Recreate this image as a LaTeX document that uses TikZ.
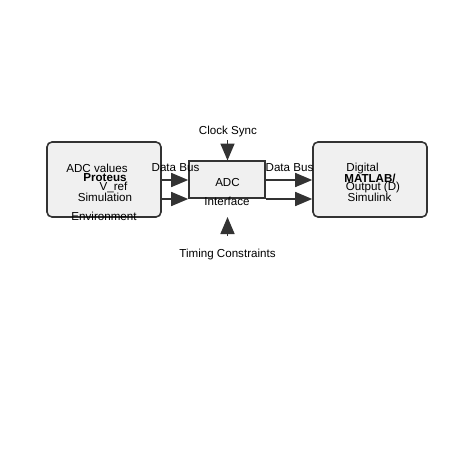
\documentclass[tikz,border=0pt]{standalone}
\usepackage{fontspec}
\setmainfont{Liberation Sans}
\usetikzlibrary{arrows.meta}
\definecolor{boxfill}{HTML}{F0F0F0}
\definecolor{edge}{HTML}{333333}
\begin{document}
\begin{tikzpicture}[x=1pt,y=-1pt,
  box/.style={draw=edge,fill=boxfill,line width=1.6pt,inner sep=0pt},
  rbox/.style={box,rounded corners=5pt},
  lbl/.style={inner sep=0pt,yshift=-2pt,font=\fontsize{11.6}{13}\selectfont},
  arr/.style={draw=edge,line width=1.6pt,-{Triangle[length=17pt,width=14pt]}}]
\path[use as bounding box] (0,0) rectangle (474,474);
\node[rbox,minimum width=114pt,minimum height=75pt] (lb) at (104,179.5) {};
\node[box,minimum width=76pt,minimum height=37pt] (mb) at (227,179.5) {};
\node[rbox,minimum width=114pt,minimum height=75pt] (rb) at (370,179.5) {};
% anchor coordinates
\coordinate (l1) at (lb.east |- 0,180);
\coordinate (l2) at (lb.east |- 0,199);
\coordinate (m1) at (mb.west |- 0,180);
\coordinate (m2) at (mb.west |- 0,199);
\coordinate (n1) at (mb.east |- 0,180);
\coordinate (n2) at (mb.east |- 0,199);
\coordinate (r1) at (rb.west |- 0,180);
\coordinate (r2) at (rb.west |- 0,199);
\coordinate (cs) at (227.5,140);
\coordinate (tc) at (227.5,236);
\coordinate (ct) at (227.5,160.5);
\coordinate (tt) at (227.5,217);
\draw[arr] (l1) -- (m1);
\draw[arr] (l2) -- (m2);
\draw[arr] (n1) -- (r1);
\draw[arr] (n2) -- (r2);
\draw[arr] (cs) -- (ct);
\draw[arr] (tc) -- (tt);
% texts
\node[lbl] (t1) at (97,166) {ADC values};
\node[lbl,font=\fontsize{11.6}{13}\selectfont\bfseries] (t2) at (105,176) {Proteus};
\node[lbl] (t3) at (113.5,185) {V\_ref};
\node[lbl] (t4) at (105,195) {Simulation};
\node[lbl] (t5) at (104,214) {Environment};
\node[lbl] (d1) at (175.5,166) {Data Bus};
\node[lbl] (d2) at (289.5,166) {Data Bus};
\node[lbl] (m3) at (227.5,181) {ADC};
\node[lbl] (m4) at (227,199) {Interface};
\node[lbl] (r3) at (362.5,166) {Digital};
\node[lbl,font=\fontsize{11.6}{13}\selectfont\bfseries] (r4) at (370,176) {MATLAB/};
\node[lbl] (r5) at (373,185) {Output (D)};
\node[lbl] (r6) at (369.5,195) {Simulink};
\node[lbl] (c1) at (228,129) {Clock Sync};
\node[lbl] (c2) at (227.5,252) {Timing Constraints};
\end{tikzpicture}
\end{document}
